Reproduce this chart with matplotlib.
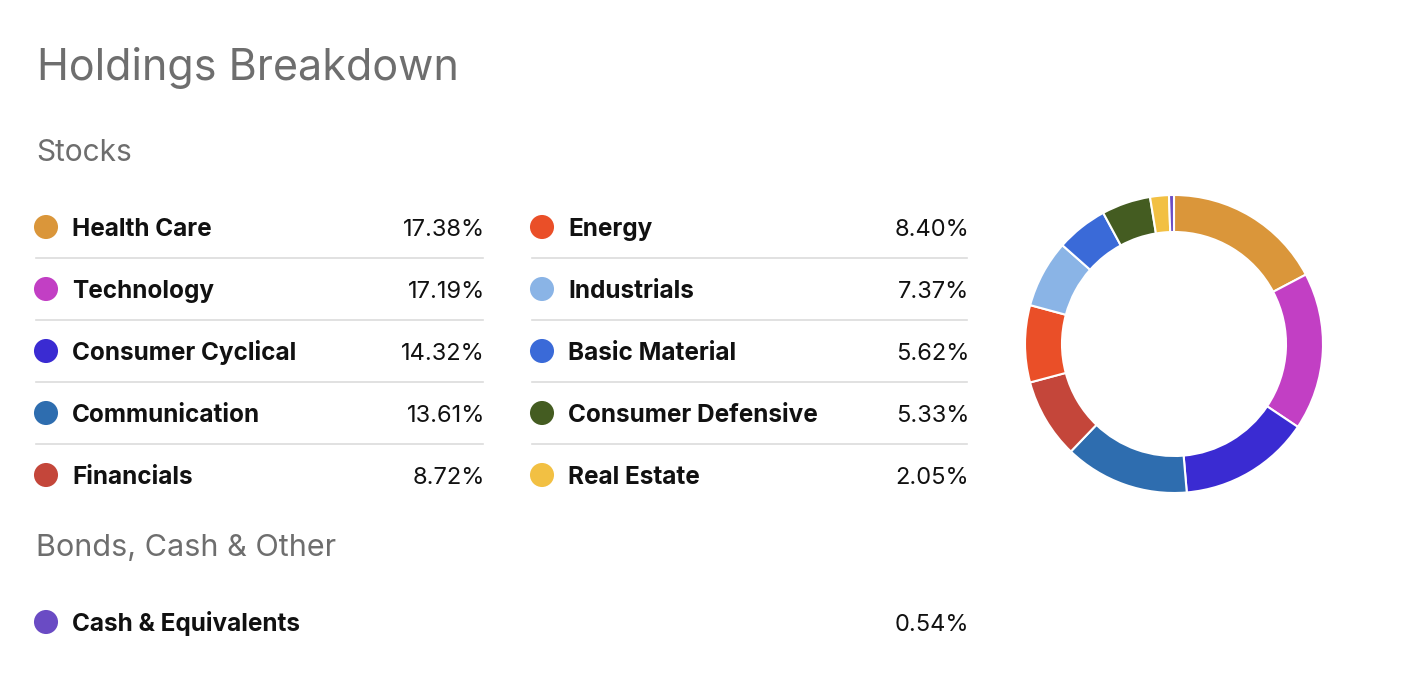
import matplotlib
matplotlib.use('Agg')
import matplotlib.pyplot as plt

plt.rcParams['font.family'] = ['Inter', 'DejaVu Sans']

# 数据
left_names = ['Health Care', 'Technology', 'Consumer Cyclical', 'Communication', 'Financials']
left_vals = [17.38, 17.19, 14.32, 13.61, 8.72]
left_colors = ['#DA963A', '#C23FC4', '#3A2BD2', '#2E6DAF', '#C4463A']
right_names = ['Energy', 'Industrials', 'Basic Material', 'Consumer Defensive', 'Real Estate']
right_vals = [8.40, 7.37, 5.62, 5.33, 2.05]
right_colors = ['#EA4F28', '#8AB4E6', '#3A6AD8', '#445C21', '#F2C043']
other_names = ['Cash & Equivalents']
other_vals = [0.54]
other_colors = ['#6A4BC4']

W, H = 1404, 684
fig = plt.figure(figsize=(W / 100, H / 100), dpi=100)
ax = fig.add_axes([0, 0, 1, 1])
ax.set_xlim(0, W)
ax.set_ylim(H, 0)
ax.axis('off')

gray = '#6E6E6E'
ax.text(37, 80, 'Holdings Breakdown', fontsize=31, color=gray, va='baseline')
ax.text(36, 161, 'Stocks', fontsize=21.5, color=gray, va='baseline')
ax.text(36, 556, 'Bonds, Cash & Other', fontsize=22, color=gray, va='baseline')

line_c = '#DCDCDC'

def draw_col(names, vals, colors, x0, x1):
    for i, (n, v, c) in enumerate(zip(names, vals, colors)):
        base = 236 + i * 62
        ax.scatter([x0 + 9], [base - 9], s=300, color=c, edgecolors='none')
        ax.text(x0 + 35, base, n, fontsize=17.5, fontweight='bold', color='#111111', va='baseline')
        ax.text(x1 + 2, base, f'{v:.2f}%', fontsize=17, color='#111111', va='baseline', ha='right')
        if i < len(names) - 1:
            ax.plot([x0 - 1, x1], [base + 22, base + 22], color=line_c, lw=1.2)

draw_col(left_names, left_vals, left_colors, 37, 483)
draw_col(right_names, right_vals, right_colors, 533, 967)

for n, v, c in zip(other_names, other_vals, other_colors):
    base = 631
    ax.scatter([46], [base - 9], s=300, color=c, edgecolors='none')
    ax.text(72, base, n, fontsize=17.5, fontweight='bold', color='#111111', va='baseline')
    ax.text(969, base, f'{v:.2f}%', fontsize=17, color='#111111', va='baseline', ha='right')

# 环形图
cx, cy, r = 1174, 344, 149
pax = fig.add_axes([(cx - r) / W, (H - cy - r) / H, 2 * r / W, 2 * r / H])
vals = left_vals + right_vals + other_vals
cols = left_colors + right_colors + other_colors
pax.pie(vals, colors=cols, startangle=90, counterclock=False,
        wedgeprops=dict(width=37 / 149, edgecolor='white', linewidth=1.5))
pax.set_xlim(-1, 1)
pax.set_ylim(-1, 1)
pax.set_aspect('equal')

fig.savefig('out.png', dpi=100, facecolor='white')
